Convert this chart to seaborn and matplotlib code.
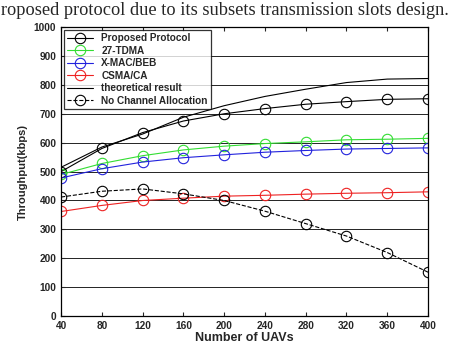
import pandas as pd
import matplotlib
matplotlib.use('Agg')
import matplotlib.pyplot as plt
import seaborn as sns

uavs = [40, 80, 120, 160, 200, 240, 280, 320, 360, 400]
proposed = [500, 580, 635, 675, 700, 718, 733, 742, 750, 752]
tdma = [490, 528, 555, 575, 588, 597, 603, 610, 612, 615]
xmac = [478, 510, 533, 548, 558, 567, 573, 578, 580, 582]
csma = [362, 383, 400, 408, 415, 418, 422, 425, 427, 430]
theory = [515, 585, 630, 688, 728, 760, 785, 808, 820, 822]
no_alloc = [412, 432, 440, 423, 400, 363, 320, 277, 220, 152]

sns.set_style('ticks')
plt.rcParams['font.family'] = ['Liberation Sans', 'DejaVu Sans']
plt.rcParams['font.weight'] = 'bold'

fig = plt.figure(figsize=(4.74, 3.56), dpi=100)
ax = fig.add_axes([0.129, 0.112, 0.774, 0.812])

series = [
    ('Proposed Protocol', proposed, 'black', '-', 'o'),
    ('27-TDMA', tdma, '#33dd33', '-', 'o'),
    ('X-MAC/BEB', xmac, '#2222dd', '-', 'o'),
    ('CSMA/CA', csma, '#ee2222', '-', 'o'),
    ('theoretical result', theory, 'black', '-', None),
    ('No Channel Allocation', no_alloc, 'black', '--', 'o'),
]
for name, vals, col, ls, mk in series:
    df = pd.DataFrame({'uavs': uavs, 'thr': vals})
    sns.lineplot(data=df, x='uavs', y='thr', ax=ax, color=col, linestyle=ls,
                 marker=mk, markersize=7.5, markerfacecolor='none',
                 markeredgecolor=col, markeredgewidth=0.8, linewidth=0.8,
                 label=name)

ax.set_xlim(40, 400)
ax.set_ylim(0, 1000)
ax.set_xticks(uavs)
ax.set_yticks(range(0, 1001, 100))
ax.yaxis.grid(True, color='black', linewidth=0.6)
ax.tick_params(direction='in', labelsize=7.3, length=3, top=True, right=False)
for s in ax.spines.values():
    s.set_color('black')
    s.set_linewidth(0.9)
ax.set_xlabel('Number of UAVs', fontsize=9, fontweight='bold', labelpad=1)
ax.set_ylabel('Throughput(kbps)', fontsize=8, fontweight='bold')

leg = ax.legend(loc='upper left', fontsize=7.2, frameon=True, fancybox=False,
                borderaxespad=0.3, handlelength=2.6, labelspacing=0.25,
                borderpad=0.3)
leg.get_frame().set_edgecolor('black')
leg.get_frame().set_linewidth(0.9)
for t in leg.get_texts():
    t.set_fontweight('bold')

# caption fragment cut at the left edge in the source screenshot
fig.text(0.002, 0.995, 'roposed protocol due to its subsets transmission slots design.',
         family=['Liberation Serif', 'DejaVu Serif'], fontsize=13.2,
         fontweight='normal', va='top', ha='left')

fig.savefig('out.png', dpi=100)
